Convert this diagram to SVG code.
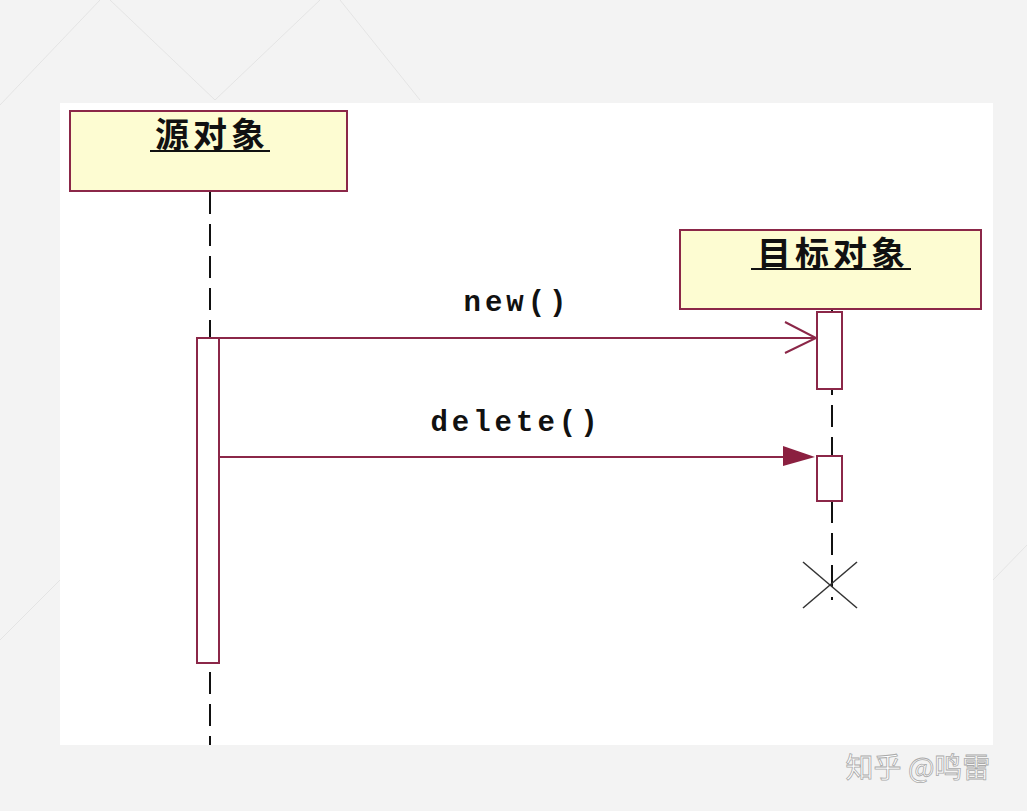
<svg xmlns="http://www.w3.org/2000/svg" width="1027" height="811" viewBox="0 0 1027 811">
<style>
.box{fill:#fdfcd2;stroke:#8b2748;stroke-width:2}
.act{fill:#fff;stroke:#8b2748;stroke-width:2}
.life{stroke:#111;stroke-width:2;stroke-dasharray:22 10;fill:none}
.msg{stroke:#8b2748;stroke-width:2;fill:none}
.title{font-family:"Noto Sans CJK SC",sans-serif;font-weight:bold;font-size:34px;letter-spacing:4px;fill:#111;text-anchor:middle}
.lbl{font-family:"Liberation Mono",monospace;font-weight:bold;font-size:29px;letter-spacing:4px;fill:#111;text-anchor:middle}
</style>
<rect width="1027" height="811" fill="#f3f3f3"/>
<g stroke="#e4e4e4" stroke-width="1">
<line x1="0" y1="105" x2="100" y2="0"/><line x1="110" y1="0" x2="215" y2="100"/><line x1="215" y1="100" x2="320" y2="0"/><line x1="340" y1="0" x2="420" y2="100"/>
<line x1="0" y1="640" x2="60" y2="580"/><line x1="993" y1="580" x2="1027" y2="545"/>
</g>
<rect x="60" y="103" width="933" height="642" fill="#fff"/>
<g id="connectors">
<line class="msg" x1="219" y1="338" x2="816" y2="338"/>
<polyline class="msg" points="785,322 816,338 785,353"/>
<line class="msg" x1="219" y1="457" x2="790" y2="457"/>
<polygon points="783,446 815,457 783,466" fill="#8b2040"/>
<text class="lbl" x="517" y="311">new()</text>
<text class="lbl" x="516" y="431">delete()</text>
</g>
<g id="source">
<line class="life" x1="210" y1="192" x2="210" y2="745"/>
<rect class="box" x="70" y="111" width="277" height="80"/>
<text class="title" x="212" y="147">源对象</text>
<line x1="150" y1="151" x2="270" y2="151" stroke="#111" stroke-width="2"/>
<rect class="act" x="197" y="338" width="22" height="325"/>
</g>
<g id="target">
<line class="life" x1="832" y1="309" x2="832" y2="600"/>
<rect class="box" x="680" y="230" width="301" height="79"/>
<text class="title" x="833" y="266">目标对象</text>
<line x1="751" y1="269" x2="911" y2="269" stroke="#111" stroke-width="2"/>
<rect class="act" x="817" y="312" width="25" height="77"/>
<rect class="act" x="817" y="456" width="25" height="45"/>
<g stroke="#333" stroke-width="1.5"><line x1="803" y1="562" x2="857" y2="608"/><line x1="857" y1="562" x2="803" y2="608"/></g>
</g>
<text x="918" y="778" font-family="Noto Sans CJK SC,sans-serif" font-size="28" fill="#fff" stroke="#aaa" stroke-width="0.8" text-anchor="middle">知乎 @鸣雷</text>
</svg>
